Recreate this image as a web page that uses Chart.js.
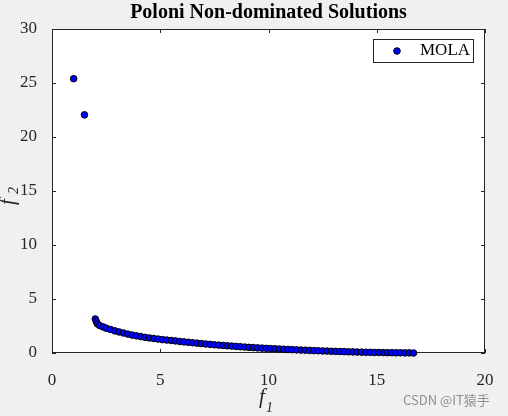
<!DOCTYPE html>
<head>
  <script src="https://cdn.jsdelivr.net/npm/chart.js"></script>
  <style>
      body { margin: 0; background: #f0f0f0; }
      .chartBox { width: 508px; height: 416px; }
  </style>
</head>

<body>
  <div class="chartBox">
    <canvas id='poloniChart'></canvas>
  </div>

<script>
// values
const f1Values = [1.00, 1.50,
  2.00, 2.05, 2.10, 2.20, 2.35, 2.50, 2.70, 2.90, 3.10, 3.30, 3.50, 3.70, 3.90, 4.10,
  4.30, 4.50, 4.70, 4.90, 5.10, 5.30, 5.50, 5.70, 5.90, 6.10, 6.30, 6.50, 6.70, 6.90,
  7.10, 7.30, 7.50, 7.70, 7.90, 8.10, 8.30, 8.50, 8.70, 8.90, 9.10, 9.30, 9.50, 9.70,
  9.90, 10.10, 10.30, 10.50, 10.70, 10.90, 11.10, 11.30, 11.50, 11.70, 11.90, 12.10,
  12.30, 12.50, 12.70, 12.90, 13.10, 13.30, 13.50, 13.70, 13.90, 14.10, 14.30, 14.50,
  14.70, 14.90, 15.10, 15.30, 15.50, 15.70, 15.90, 16.10, 16.30, 16.50, 16.70];
const f2Values = [25.40, 22.05,
  3.15, 2.90, 2.70, 2.55, 2.42, 2.30, 2.18, 2.05, 1.95, 1.85, 1.75, 1.66, 1.59, 1.52,
  1.45, 1.39, 1.34, 1.29, 1.24, 1.20, 1.16, 1.12, 1.07, 1.03, 0.99, 0.95, 0.91, 0.87,
  0.83, 0.80, 0.76, 0.73, 0.70, 0.67, 0.64, 0.61, 0.58, 0.55, 0.52, 0.50, 0.47, 0.45,
  0.43, 0.41, 0.39, 0.37, 0.35, 0.33, 0.31, 0.29, 0.27, 0.26, 0.24, 0.22,
  0.21, 0.19, 0.18, 0.16, 0.15, 0.14, 0.13, 0.11, 0.10, 0.09, 0.08, 0.07,
  0.06, 0.05, 0.05, 0.04, 0.03, 0.03, 0.02, 0.02, 0.01, 0.01, 0.00];
const xTicks = [0, 5, 10, 15, 20];
const yTicks = [0, 5, 10, 15, 20, 25, 30];
const seriesName = 'MOLA';

const points = f1Values.map((v, i) => ({x: v, y: f2Values[i]}));

const axisColor = '#262626';
const serif = "'Liberation Serif', 'Times New Roman', serif";

// frame, inward ticks, title, labels, legend
const matlabFrame = {
  id: 'matlabFrame',
  beforeDraw(chart) {
    const {ctx, chartArea: {left, top, right, bottom}} = chart;
    ctx.save();
    ctx.fillStyle = '#f0f0f0';
    ctx.fillRect(0, 0, chart.width, chart.height);
    ctx.fillStyle = '#ffffff';
    ctx.fillRect(left, top, right - left, bottom - top);
    ctx.restore();
  },
  beforeDatasetsDraw(chart) {
    const {ctx, chartArea: {left, top, right, bottom}, scales: {x, y}} = chart;
    ctx.save();
    ctx.strokeStyle = axisColor;
    ctx.lineWidth = 1;
    ctx.strokeRect(left + 0.5, top + 0.5, right - left - 1, bottom - top - 1);
    let tl = 4;
    ctx.beginPath();
    xTicks.forEach(v => {
      let px = Math.round(x.getPixelForValue(v)) + 0.5;
      ctx.moveTo(px, bottom); ctx.lineTo(px, bottom - tl);
      ctx.moveTo(px, top); ctx.lineTo(px, top + tl);
    });
    yTicks.forEach(v => {
      let py = Math.round(y.getPixelForValue(v)) + 0.5;
      ctx.moveTo(left, py); ctx.lineTo(left + tl, py);
      ctx.moveTo(right, py); ctx.lineTo(right - tl, py);
    });
    ctx.stroke();
    ctx.restore();
  },
  afterDraw(chart) {
    const {ctx, chartArea: {left, top, right, bottom}} = chart;
    ctx.save();
    // title
    ctx.fillStyle = '#000000';
    ctx.font = "bold 20px " + serif;
    ctx.textAlign = 'center';
    ctx.textBaseline = 'middle';
    ctx.fillText('Poloni Non-dominated Solutions', (left + right) / 2, 13);

    // x label
    ctx.fillStyle = axisColor;
    ctx.textAlign = 'left';
    ctx.textBaseline = 'alphabetic';
    ctx.font = "italic 21px " + serif;
    ctx.fillText('f', 259, 403);
    ctx.font = "italic 14px " + serif;
    ctx.fillText('1', 266, 412);

    // y label
    ctx.translate(14, 205);
    ctx.rotate(-Math.PI / 2);
    ctx.font = "italic 21px " + serif;
    ctx.fillText('f', 0, 0);
    ctx.font = "italic 14px " + serif;
    ctx.fillText('2', 11, 4);
    ctx.restore();

    // legend box
    ctx.save();
    let bx = right - 112, by = top + 10, bw = 100, bh = 23;
    ctx.fillStyle = '#ffffff';
    ctx.fillRect(bx, by, bw, bh);
    ctx.strokeStyle = axisColor;
    ctx.lineWidth = 1;
    ctx.strokeRect(bx + 0.5, by + 0.5, bw, bh);
    ctx.beginPath();
    ctx.arc(bx + 24, by + 12, 3.3, 0, Math.PI * 2);
    ctx.fillStyle = '#0000ff';
    ctx.fill();
    ctx.strokeStyle = '#000000';
    ctx.stroke();
    ctx.fillStyle = '#000000';
    ctx.font = "17px " + serif;
    ctx.textAlign = 'left';
    ctx.textBaseline = 'middle';
    ctx.fillText(seriesName, bx + 47, by + 12);

    // watermark
    ctx.fillStyle = 'rgba(110,110,110,0.75)';
    ctx.font = "13px 'Noto Sans CJK SC', 'Noto Sans', sans-serif";
    ctx.fillText('CSDN @IT猿手', 403, 400);
    ctx.restore();
  }
};

new Chart(document.getElementById("poloniChart"), {
    type: 'scatter',
    data: {
      datasets: [
        {
          label: seriesName,
          data: points,
          backgroundColor: '#0000ff',
          borderColor: '#000000',
          borderWidth: 1,
          pointRadius: 3.3,
          clip: false
        }
      ]
    },
    options: {
      responsive: true,
      maintainAspectRatio: false,
      animation: false,
      devicePixelRatio: 1,
      layout: {
        padding: {left: 0, top: 29, right: 23, bottom: 0}
      },
      plugins: {
        legend: { display: false },
        title: { display: false },
        tooltip: { enabled: false }
      },
      scales: {
        x: {
          type: 'linear',
          min: 0,
          max: 20,
          afterBuildTicks: (scale) => { scale.ticks = xTicks.map(v => ({value: v})); },
          afterFit: (scale) => { scale.height = 63; },
          grid: { display: false },
          border: { display: false },
          ticks: {
            color: axisColor,
            padding: 9,
            maxRotation: 0,
            font: { family: serif, size: 17 }
          }
        },
        y: {
          type: 'linear',
          min: 0,
          max: 30,
          afterBuildTicks: (scale) => { scale.ticks = yTicks.map(v => ({value: v})); },
          afterFit: (scale) => { scale.width = 52; },
          grid: { display: false },
          border: { display: false },
          ticks: {
            color: axisColor,
            padding: 7,
            font: { family: serif, size: 17 }
          }
        }
      }
    },
    plugins: [matlabFrame]
});
</script>

</body>
